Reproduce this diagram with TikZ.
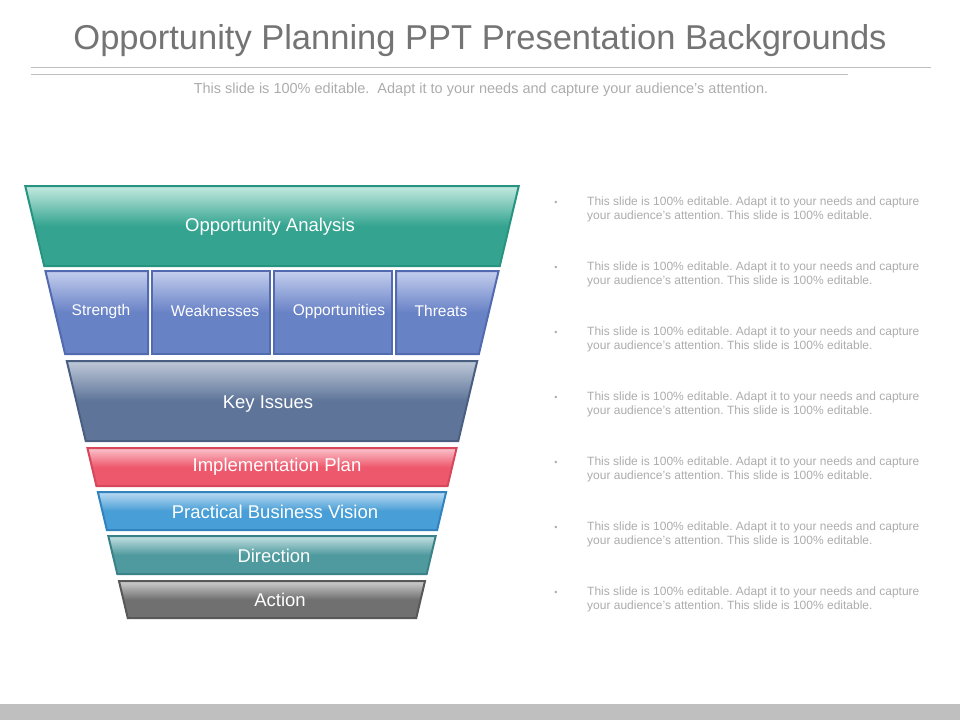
\documentclass[tikz,border=0pt]{standalone}
\usepackage{fontspec}
\setmainfont{Liberation Sans}
\usetikzlibrary{positioning,calc}
\definecolor{cTeal}{RGB}{52,164,144}
\definecolor{cTealTop}{RGB}{196,234,224}
\definecolor{cTealLine}{RGB}{38,148,128}
\definecolor{cSwot}{RGB}{104,130,198}
\definecolor{cSwotTop}{RGB}{196,206,238}
\definecolor{cSwotLine}{RGB}{82,106,176}
\definecolor{cKey}{RGB}{94,117,153}
\definecolor{cKeyTop}{RGB}{190,200,216}
\definecolor{cKeyLine}{RGB}{74,94,130}
\definecolor{cImpl}{RGB}{238,88,108}
\definecolor{cImplTop}{RGB}{250,196,204}
\definecolor{cImplLine}{RGB}{214,70,92}
\definecolor{cVis}{RGB}{72,158,214}
\definecolor{cVisTop}{RGB}{186,218,242}
\definecolor{cVisLine}{RGB}{50,130,190}
\definecolor{cDir}{RGB}{78,154,158}
\definecolor{cDirTop}{RGB}{196,224,226}
\definecolor{cDirLine}{RGB}{58,130,136}
\definecolor{cAct}{RGB}{112,112,112}
\definecolor{cActTop}{RGB}{206,206,206}
\definecolor{cActLine}{RGB}{88,88,88}
\definecolor{cNote}{RGB}{172,172,172}
\definecolor{cHead}{RGB}{116,116,116}
\definecolor{cRule}{RGB}{191,191,191}
% funnel edge: x at depth y (left / right side)
\newcommand{\fnlL}[1]{25+0.2373*(#1-185)}
\newcommand{\fnlR}[1]{519-0.2373*(#1-185)}
% one band of the funnel: top y, bottom y, colour
\newcommand{\fband}[3]{%
  \pgfmathsetmacro{\fbLt}{\fnlL{#1}}\pgfmathsetmacro{\fbRt}{\fnlR{#1}}%
  \pgfmathsetmacro{\fbLb}{\fnlL{#2}}\pgfmathsetmacro{\fbRb}{\fnlR{#2}}%
  \draw[band,draw=#3Line,top color=#3Top,bottom color=#3,middle color=#3]
    (\fbLt,#1) -- (\fbRt,#1) -- (\fbRb,#2) -- (\fbLb,#2) -- cycle;}
\frenchspacing

\begin{document}
\begin{tikzpicture}[x=1pt,y=-1pt,
  band/.style={line width=2pt,line join=miter},
  lbl/.style={text=white,font=\fontsize{18.5}{20}\selectfont,inner sep=0pt},
  swlbl/.style={lbl,font=\fontsize{15.5}{18}\selectfont},
  note/.style={text=cNote,font=\fontsize{12}{14}\selectfont,align=left,anchor=north west,inner sep=0pt},
  dot/.style={text=cNote,font=\fontsize{9}{10}\selectfont,inner sep=0pt}]
  \useasboundingbox (0,0) rectangle (960,720);
  % heading
  \node[text=cHead,font=\fontsize{34.5}{38}\selectfont] (title) at (480,41) {Opportunity Planning PPT Presentation Backgrounds};
  \draw[cRule,line width=1pt] (31,67) -- (931,67);
  \draw[cRule,line width=0.8pt] (31,74) -- (848,74);
  \node[text=cNote,font=\fontsize{14.5}{16}\selectfont] (sub) at (481,90) {This slide is 100\% editable.\ \ Adapt it to your needs and capture your audience's attention.};
  % funnel
  \fband{186}{266}{cTeal}
  \fband{361}{441}{cKey}
  \fband{448}{486}{cImpl}
  \fband{492}{530}{cVis}
  \fband{536}{574}{cDir}
  \fband{581}{618}{cAct}
  % swot row
  \pgfmathsetmacro{\swLt}{\fnlL{271}}\pgfmathsetmacro{\swLb}{\fnlL{354}}
  \pgfmathsetmacro{\swRt}{\fnlR{271}}\pgfmathsetmacro{\swRb}{\fnlR{354}}
  \begin{scope}[every path/.style={band,draw=cSwotLine,top color=cSwotTop,bottom color=cSwot,middle color=cSwot}]
    \draw (\swLt,271) -- (148,271) -- (148,354) -- (\swLb,354) -- cycle;
    \draw (152,271) rectangle (270,354);
    \draw (274,271) rectangle (392,354);
    \draw (396,271) -- (\swRt,271) -- (\swRb,354) -- (396,354) -- cycle;
  \end{scope}
  \node[lbl] (oa) at (270,227) {Opportunity Analysis};
  \node[swlbl] (str) at (101,311) {Strength};
  \node[swlbl] (weak) at (215,311) {Weaknesses};
  \node[swlbl] (opp) at (339,311) {Opportunities};
  \node[swlbl] (thr) at (441,311) {Threats};
  \node[lbl] (key) at (268,404) {Key Issues};
  \node[lbl] (impl) at (277,467) {Implementation Plan};
  \node[lbl] (vis) at (275,512) {Practical Business Vision};
  \node[lbl] (dir) at (274,556) {Direction};
  \node[lbl] (act) at (280,600) {Action};
  % notes on the right
  \foreach \i in {1,...,7}{
    \pgfmathsetmacro{\ny}{197+65*(\i-1)}
    \node[dot] (d\i) at (556,\ny+6) {•};
    \node[note] (n\i) at (587,\ny) {This slide is 100\% editable. Adapt it to your needs and capture\\your audience's attention. This slide is 100\% editable.};
  }
  % footer band
  \fill[cRule] (0,704) rectangle (960,720);
\end{tikzpicture}
\end{document}
